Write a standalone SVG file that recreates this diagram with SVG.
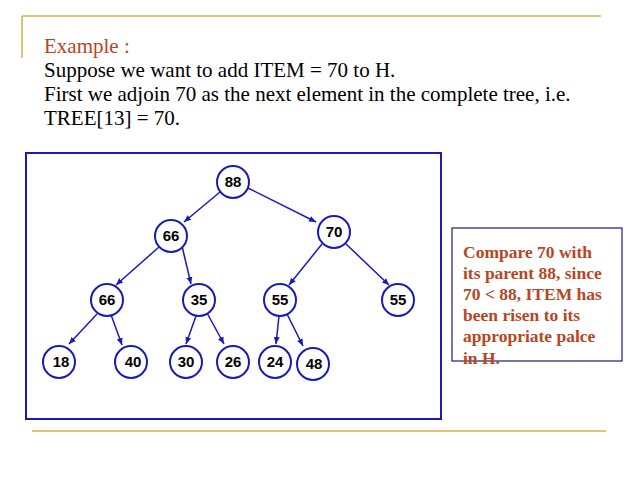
<svg xmlns="http://www.w3.org/2000/svg" width="638" height="479" viewBox="0 0 638 479">
<defs>
<marker id="ah" markerWidth="8" markerHeight="8" refX="7" refY="4" orient="auto" markerUnits="userSpaceOnUse"><path d="M0,1 L7,4 L0,7 z" fill="#1a1ab8"/></marker>
<style>
.n circle{fill:#fff;stroke:#1a1ab8;stroke-width:2}
.n text{font-family:"Liberation Sans",Arial,sans-serif;font-weight:bold;font-size:15px;text-anchor:middle;fill:#000}
.c line{stroke:#1a1ab8;stroke-width:1.5;marker-end:url(#ah)}
.t{font-family:"Liberation Serif","Times New Roman",serif;font-size:21px;fill:#000}
.r{font-family:"Liberation Serif","Times New Roman",serif;font-size:17.5px;font-weight:bold;fill:#B8461E}
</style>
</defs>
<rect width="638" height="479" fill="#fff"/>
<line x1="22" y1="16" x2="601" y2="16" stroke="#d4b04a" stroke-width="1.5"/>
<line x1="22" y1="16" x2="22" y2="58" stroke="#d4b04a" stroke-width="1.5"/>
<line x1="32" y1="431" x2="606" y2="431" stroke="#d4b04a" stroke-width="1.5"/>
<text x="44" y="53" class="t" style="fill:#B8461E">Example :</text>
<text x="44" y="77" class="t">Suppose we want to add ITEM = 70 to H.</text>
<text x="44" y="101" class="t">First we adjoin 70 as the next element in the complete tree, i.e.</text>
<text x="44" y="125" class="t">TREE[13] = 70.</text>
<rect x="26" y="153" width="415" height="266" fill="none" stroke="#1a1ab8" stroke-width="2"/>
<g class="c">
<line x1="220" y1="192" x2="184" y2="222"/>
<line x1="248" y1="188" x2="316" y2="222"/>
<line x1="159" y1="247" x2="116" y2="285"/>
<line x1="182" y1="246" x2="191" y2="284"/>
<line x1="322" y1="244" x2="289" y2="285"/>
<line x1="346" y1="244" x2="389" y2="285"/>
<line x1="97" y1="314" x2="69" y2="344"/>
<line x1="110" y1="312" x2="122" y2="345"/>
<line x1="196" y1="316" x2="186" y2="344"/>
<line x1="207" y1="313" x2="224" y2="344"/>
<line x1="279" y1="316" x2="276" y2="344"/>
<line x1="287" y1="314" x2="303" y2="346"/>
</g>
<g id="n88" class="n"><circle cx="233" cy="182" r="16"/><text x="233" y="187">88</text></g>
<g id="n66a" class="n"><circle cx="171" cy="236" r="16"/><text x="171" y="241">66</text></g>
<g id="n70" class="n"><circle cx="334" cy="232" r="16"/><text x="334" y="237">70</text></g>
<g id="n66b" class="n"><circle cx="107" cy="300" r="16"/><text x="107" y="305">66</text></g>
<g id="n35" class="n"><circle cx="199" cy="300" r="16"/><text x="199" y="305">35</text></g>
<g id="n55a" class="n"><circle cx="280" cy="300" r="16"/><text x="280" y="305">55</text></g>
<g id="n55b" class="n"><circle cx="398" cy="300" r="16"/><text x="398" y="305">55</text></g>
<g id="n18" class="n"><circle cx="59" cy="362" r="16"/><text x="61" y="367">18</text></g>
<g id="n40" class="n"><circle cx="131" cy="362" r="16"/><text x="133" y="367">40</text></g>
<g id="n30" class="n"><circle cx="186" cy="362" r="16"/><text x="186" y="367">30</text></g>
<g id="n26" class="n"><circle cx="233" cy="362" r="16"/><text x="233" y="367">26</text></g>
<g id="n24" class="n"><circle cx="275" cy="362" r="16"/><text x="275" y="367">24</text></g>
<g id="n48" class="n"><circle cx="313" cy="364" r="16"/><text x="314" y="369">48</text></g>
<g id="note">
<rect x="452" y="228" width="170" height="133" fill="#fff" stroke="#1a1a80" stroke-width="1.2"/>
<text class="r" x="463" y="258">Compare 70 with</text>
<text class="r" x="463" y="279">its parent 88, since</text>
<text class="r" x="463" y="300">70 &lt; 88, ITEM has</text>
<text class="r" x="463" y="321">been risen to its</text>
<text class="r" x="463" y="342">appropriate palce</text>
<text class="r" x="463" y="364">in H.</text>
</g>
</svg>
